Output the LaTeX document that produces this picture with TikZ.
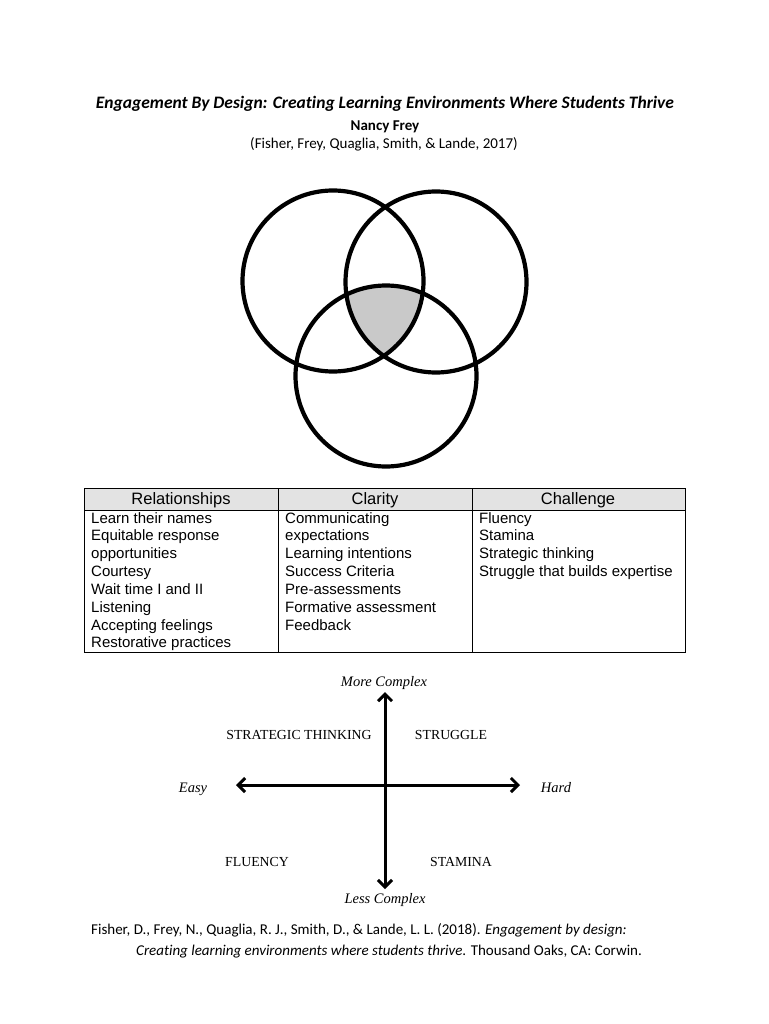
\documentclass[tikz,border=0pt]{standalone}
\usepackage{fontspec}
\setmainfont[Ligatures=NoCommon]{Carlito}
\newfontfamily\tabfont{Liberation Sans}
\newfontfamily\axfont{Liberation Serif}
\usetikzlibrary{arrows.meta}
\begin{document}
\begin{tikzpicture}[x=1pt,y=-1pt,
  venn/.style={draw=black, line width=4.2pt},
  grid/.style={draw=black, line width=1pt},
  head/.style={font=\tabfont\fontsize{16.5}{19}\selectfont, anchor=base, inner sep=0pt},
  body/.style={font=\tabfont\fontsize{15}{17}\selectfont, anchor=base west, inner sep=0pt},
  axis/.style={line width=3pt, {Straight Barb[length=7pt,width=14pt]}-{Straight Barb[length=7pt,width=14pt]}},
  quad/.style={font=\axfont\fontsize{13.8}{16}\selectfont, anchor=base, inner sep=0pt},
  axlab/.style={font=\axfont\itshape\fontsize{14.5}{16}\selectfont, anchor=base, inner sep=0pt},
  ttl/.style={anchor=base, inner sep=0pt}]
\useasboundingbox[fill=white] (0,0) rectangle (768,1024);

% Title block
\node[ttl, font=\bfseries\itshape\fontsize{17.5}{20}\selectfont] (title) at (385,109)
  {Engagement By Design: Creating Learning Environments Where Students Thrive};
\node[ttl, font=\bfseries\fontsize{15}{17}\selectfont] (author) at (385,131) {Nancy Frey};
\node[ttl, font=\fontsize{15}{17}\selectfont] (cite) at (384,149) {(Fisher, Frey, Quaglia, Smith, \& Lande, 2017)};

% Venn diagram
\coordinate (cA) at (333,281);
\coordinate (cB) at (436,282);
\coordinate (cC) at (386,376);
\begin{scope}
  \clip (cA) circle (90.5);
  \clip (cB) circle (90.5);
  \fill[gray!42] (cC) circle (90.5);
\end{scope}
\draw[venn] (cA) circle (90.5);
\draw[venn] (cB) circle (90.5);
\draw[venn] (cC) circle (90.5);

% Table
\fill[gray!22] (84,488) rectangle (685,510);
\draw[grid] (84,488) rectangle (685,652);
\draw[grid] (84,510) -- (685,510);
\draw[grid] (278,488) -- (278,652);
\draw[grid] (472,488) -- (472,652);
\node[head] (h1) at (181,504) {Relationships};
\node[head] (h2) at (375,504) {Clarity};
\node[head] (h3) at (578,504) {Challenge};
\foreach \t [count=\i] in {Learn their names, Equitable response, opportunities, Courtesy, Wait time I and II, Listening, Accepting feelings, Restorative practices}
  \node[body] (rel\i) at (91,{523+17.85*(\i-1)}) {\t};
\foreach \t [count=\i] in {Communicating, expectations, Learning intentions, Success Criteria, Pre-assessments, Formative assessment, Feedback}
  \node[body] (cla\i) at (285,{523+17.85*(\i-1)}) {\t};
\foreach \t [count=\i] in {Fluency, Stamina, Strategic thinking, Struggle that builds expertise}
  \node[body] (cha\i) at (479,{523+17.85*(\i-1)}) {\t};

% Quadrant axes
\coordinate (top) at (385,692);
\coordinate (bot) at (385,889);
\coordinate (lft) at (236,785);
\coordinate (rgt) at (520,785);
\draw[axis] (bot) -- (top);
\draw[axis] (lft) -- (rgt);
\node[axlab] (more) at (384,686) {More Complex};
\node[axlab] (less) at (385,903) {Less Complex};
\node[axlab] (easy) at (193,792) {Easy};
\node[axlab] (hard) at (556,792) {Hard};
\node[quad] (st) at (299,739) {STRATEGIC THINKING};
\node[quad] (sg) at (451,739) {STRUGGLE};
\node[quad] (fl) at (257,866) {FLUENCY};
\node[quad] (sm) at (461,866) {STAMINA};

% Reference
\node[anchor=base west, inner sep=0pt, font=\fontsize{15}{17}\selectfont] (ref1) at (91,934)
  {Fisher, D., Frey, N., Quaglia, R. J., Smith, D., \& Lande, L. L. (2018). \textit{Engagement by design:}};
\node[anchor=base west, inner sep=0pt, font=\fontsize{15}{17}\selectfont] (ref2) at (136,955)
  {\textit{Creating learning environments where students thrive}. Thousand Oaks, CA: Corwin.};
\end{tikzpicture}
\end{document}
